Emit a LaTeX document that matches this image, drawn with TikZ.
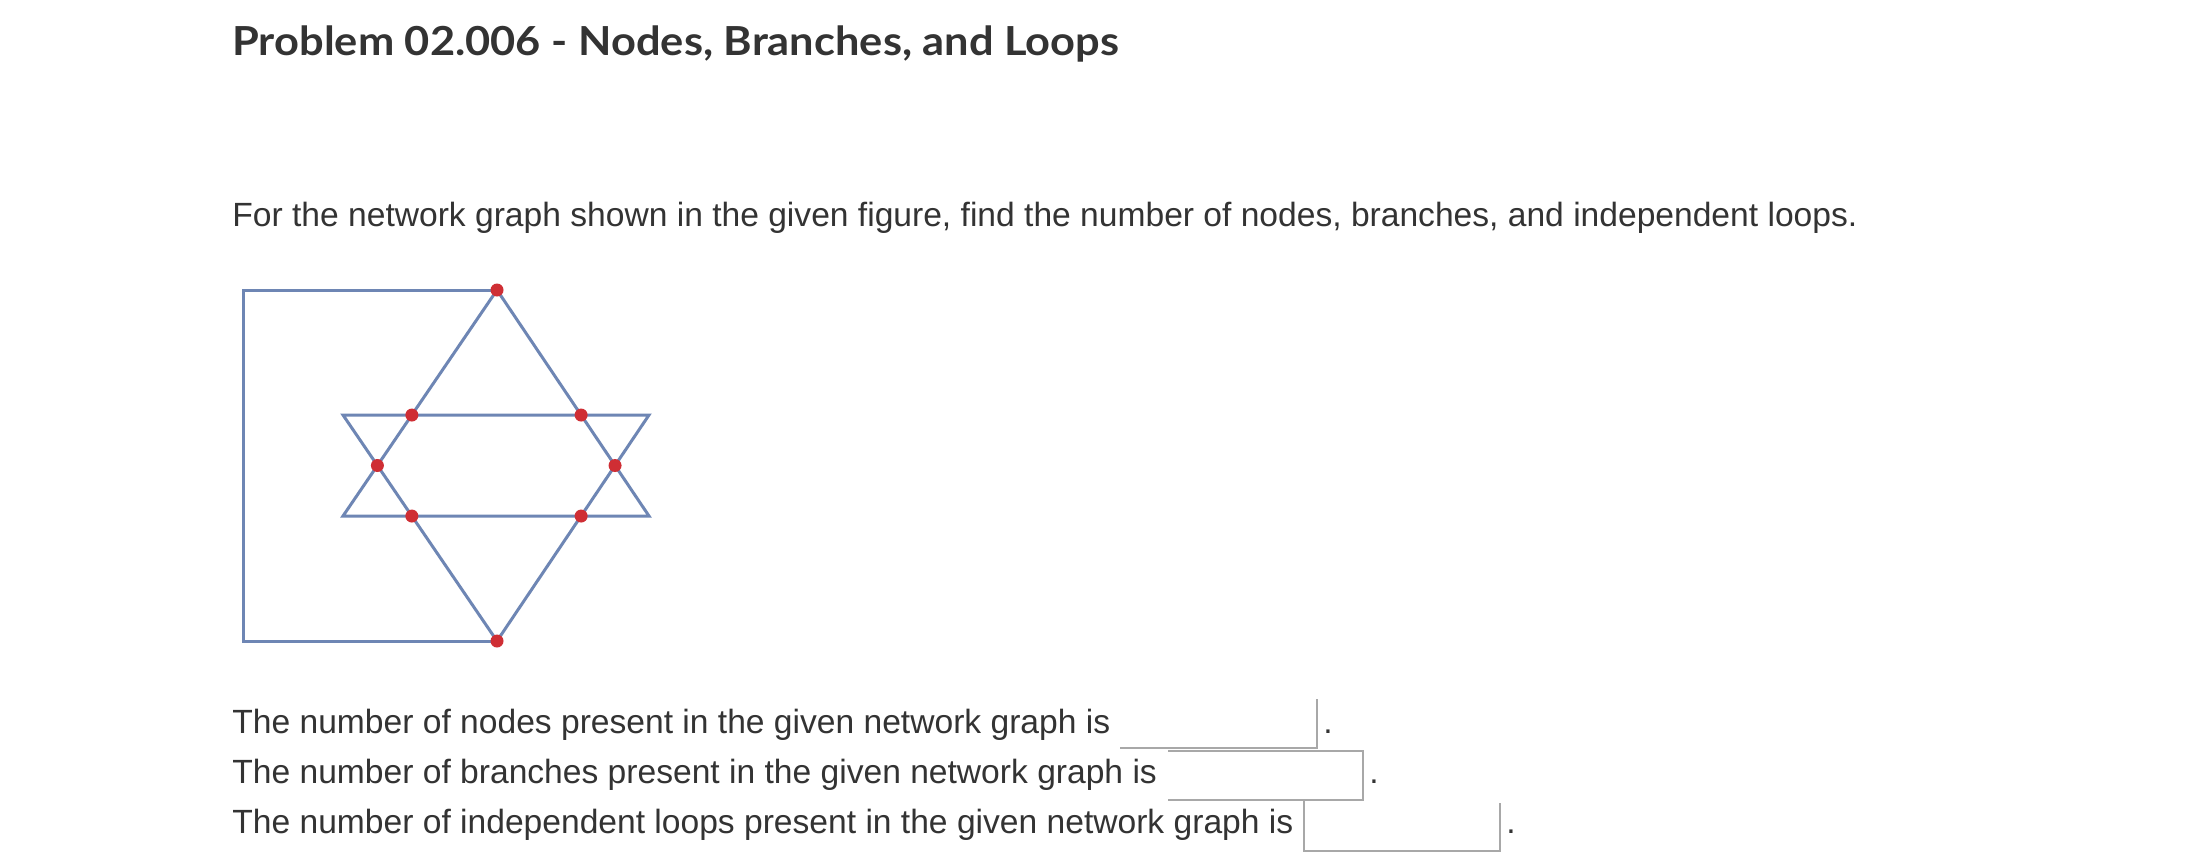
\documentclass[tikz,border=0pt]{standalone}
\usepackage{fontspec}
\setmainfont{Liberation Sans}
\newfontfamily\titlefont[FakeStretch=1.085]{Lato}
\definecolor{txt}{HTML}{333333}
\definecolor{edge}{HTML}{6E86B4}
\definecolor{dot}{HTML}{CF2E34}
\definecolor{boxc}{HTML}{A8A8A8}
\begin{document}
\begin{tikzpicture}[x=0.5pt,y=-0.5pt,
  body/.style={anchor=base west,inner sep=0pt,text=txt,font=\fontsize{16.8pt}{19pt}\selectfont},
  ttl/.style={anchor=base west,inner sep=0pt,text=txt,font=\titlefont\bfseries\fontsize{20pt}{23pt}\selectfont},
  wire/.style={draw=edge,line width=1.5pt,line join=miter},
  junction/.style={circle,fill=dot,inner sep=0pt,minimum size=6.5pt},
  ansbox/.style={draw=boxc,line width=1pt}]
\useasboundingbox (0,0) rectangle (2192,852);
\fill[white] (0,0) rectangle (2192,852);
% texts
\node[ttl] (title) at (232,55.7) {Problem 02.006 - Nodes, Branches, and Loops};
\node[body] (q) at (232,226.7) {For the network graph shown in the given figure, find the number of nodes, branches, and independent loops.};
\node[body] (l1) at (232,733.3) {The number of nodes present in the given network graph is};
\node[body] (l2) at (232,783.3) {The number of branches present in the given network graph is};
\node[body] (l3) at (232,833.3) {The number of independent loops present in the given network graph is};
\node[body] (p1) at (1323,733.3) {.};
\node[body] (p2) at (1369,783.3) {.};
\node[body] (p3) at (1506,833.3) {.};
% answer boxes
\coordinate (b1a) at (1120,748); \coordinate (b1b) at (1317,748); \coordinate (b1c) at (1317,699);
\draw[ansbox] (b1a) -- (b1b) -- (b1c);
\coordinate (b2a) at (1168,751); \coordinate (b2b) at (1363,751); \coordinate (b2c) at (1363,800); \coordinate (b2d) at (1168,800);
\draw[ansbox] (b2a) -- (b2b) -- (b2c) -- (b2d);
\coordinate (b3a) at (1304,800); \coordinate (b3b) at (1304,851); \coordinate (b3c) at (1500,851); \coordinate (b3d) at (1500,803);
\draw[ansbox] (b3a) -- (b3b) -- (b3c) -- (b3d);
% graph geometry
\coordinate (T) at (497,290);
\coordinate (B) at (497,641);
\coordinate (TL) at (243,290);
\coordinate (BL) at (243,641);
\coordinate (ul) at (343,415);
\coordinate (ur) at (649,415);
\coordinate (ll) at (343,516);
\coordinate (lr) at (649,516);
% wires
\draw[wire] (T) -- (TL) -- (BL) -- (B);
\draw[wire] (T) -- (ll) -- (lr) -- cycle;
\draw[wire] (B) -- (ul) -- (ur) -- cycle;
% junctions
\node[junction] (nT) at (T) {};
\node[junction] (nB) at (B) {};
\node[junction] (na) at (intersection of T--ll and ul--ur) {};
\node[junction] (nb) at (intersection of T--lr and ul--ur) {};
\node[junction] (nc) at (intersection of T--ll and B--ul) {};
\node[junction] (nd) at (intersection of T--lr and B--ur) {};
\node[junction] (ne) at (intersection of B--ul and ll--lr) {};
\node[junction] (nf) at (intersection of B--ur and ll--lr) {};
\end{tikzpicture}
\end{document}
